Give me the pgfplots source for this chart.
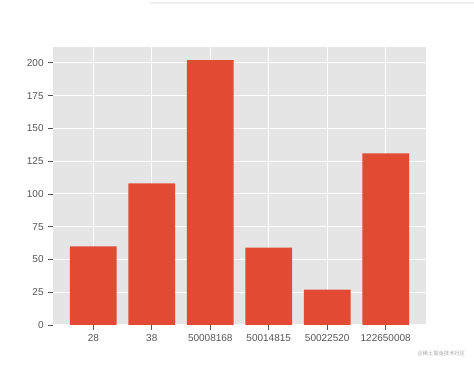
\documentclass[border=0pt]{standalone}
\usepackage{pgfplots}
\pgfplotsset{compat=1.18}
\usepackage{fontspec}
\setmainfont{Liberation Sans}
\newfontfamily\cjk{Noto Sans CJK SC}
\definecolor{ggbg}{HTML}{E5E5E5}
\definecolor{ggred}{HTML}{E24A33}
\definecolor{ggtick}{HTML}{555555}
\begin{document}
\begin{tikzpicture}[x=0.75pt,y=0.75pt]
\begin{axis}[
  scale only axis, width=373*0.75pt, height=278*0.75pt,
  xmin=-0.69, xmax=5.69, ymin=0, ymax=212.1,
  axis background/.style={fill=ggbg},
  axis line style={draw=none},
  grid=major, major grid style={white, line width=0.8pt},
  xtick={0,1,2,3,4,5},
  xticklabels={28,38,50008168,50014815,50022520,122650008},
  ytick={0,25,50,75,100,125,150,175,200},
  tick style={ggtick, line width=0.6pt},
  tick align=outside, major tick length=3.5pt,
  ticklabel style={font=\fontsize{7.5}{9}\selectfont, text=ggtick},
  /pgf/number format/assume math mode=true,
  xtick pos=bottom, ytick pos=left,
]
\addplot[ybar, bar width=0.8, fill=ggred, draw=none, bar shift=0pt]
  coordinates {(0,60) (1,108) (2,202) (3,59) (4,27) (5,131)};
\coordinate (bl) at (rel axis cs:0,0);
\end{axis}
\pgfresetboundingbox
\path[use as bounding box] (bl) ++(-53,-41) rectangle ++(474,366);
\draw[black!6, line width=1.5pt] (bl) ++(97,322) -- ++(324,0);
\node[anchor=east, text=black!35, font=\cjk\fontsize{4}{5}\selectfont] at ([shift={(417,-29)}]bl) {@稀土掘金技术社区};
\end{tikzpicture}
\end{document}
